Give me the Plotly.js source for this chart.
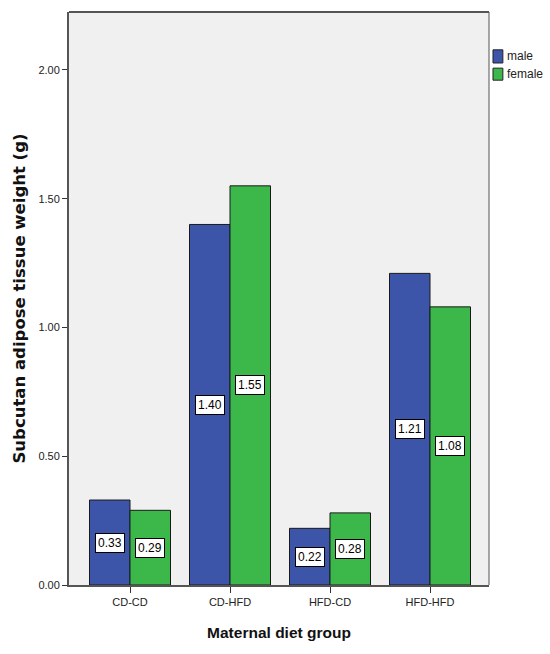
<!DOCTYPE html>
<html>
<head>
<meta charset="utf-8">
<script src="https://cdn.plot.ly/plotly-3.0.1.min.js"></script>
<style>
  html, body { margin: 0; padding: 0; background: #fff; }
  #chart { width: 550px; height: 654px; }
</style>
</head>
<body>
<div id="chart"></div>
<script>
// maternal diet groups and subcutaneous adipose tissue weight (g)
const groups = ['CD-CD', 'CD-HFD', 'HFD-CD', 'HFD-HFD'];
const male = [0.33, 1.40, 0.22, 1.21];
const female = [0.29, 1.55, 0.28, 1.08];
const yTicks = [0, 0.5, 1.0, 1.5, 2.0];

const blue = '#3d55a8';
const green = '#3cb84a';

let trace1 = {
  x: groups,
  y: male,
  name: 'male',
  type: 'bar',
  marker: { color: blue, line: { color: '#1a1a1a', width: 1 } },
  hoverinfo: 'none'
};

let trace2 = {
  x: groups,
  y: female,
  name: 'female',
  type: 'bar',
  marker: { color: green, line: { color: '#1a1a1a', width: 1 } },
  hoverinfo: 'none'
};

// value labels in the middle of each bar, white boxes
let annotations = [];
function addLabels(vals, shift) {
  vals.forEach((v, i) => {
    annotations.push({
      x: groups[i],
      y: v / 2,
      xshift: shift,
      text: v.toFixed(2),
      showarrow: false,
      bgcolor: '#ffffff',
      bordercolor: '#000000',
      borderwidth: 1,
      borderpad: 2,
      font: { family: 'Liberation Sans, Arial', size: 12, color: '#000' }
    });
  });
}
addLabels(male, -20);
addLabels(female, 20);

// legend drawn by hand so it sits tight against the plot like the original
let shapes = [
  { type: 'line', xref: 'paper', yref: 'paper', x0: 0, x1: 1, y0: 1, y1: 1, line: { color: '#555', width: 2 } },
  { type: 'line', xref: 'paper', yref: 'paper', x0: 1, x1: 1, y0: 0, y1: 1, line: { color: '#555', width: 1 } }
];
const legendItems = [
  { name: trace1.name, color: blue, y0: 0.911, y1: 0.934 },
  { name: trace2.name, color: green, y0: 0.881, y1: 0.902 }
];
legendItems.forEach(it => {
  shapes.push({
    type: 'rect', xref: 'paper', yref: 'paper',
    x0: 1.0095, x1: 1.033, y0: it.y0, y1: it.y1,
    fillcolor: it.color, line: { color: '#222', width: 1 }
  });
  annotations.push({
    xref: 'paper', yref: 'paper',
    x: 1.037, y: (it.y0 + it.y1) / 2,
    xanchor: 'left', yanchor: 'middle',
    text: it.name, showarrow: false,
    font: { family: 'Liberation Sans, Arial', size: 12, color: '#222' }
  });
});

let layout = {
  width: 550,
  height: 654,
  margin: { l: 69, r: 61, t: 12, b: 69 },
  paper_bgcolor: '#ffffff',
  plot_bgcolor: '#f0f0f0',
  font: { family: 'Liberation Sans, Arial', size: 11, color: '#222' },
  barmode: 'group',
  bargap: 0.19,
  bargroupgap: 0,
  showlegend: false,
  xaxis: {
    type: 'category',
    range: [-0.61, 3.59],
    showline: true,
    linecolor: '#555',
    linewidth: 2,
    mirror: false,
    ticks: 'outside',
    ticklen: 6,
    tickcolor: '#333',
    tickfont: { size: 11, color: '#222' },
    title: {
      text: 'Maternal diet group',
      font: { size: 15.5, color: '#111', family: 'Liberation Sans, Arial', weight: 'bold' },
      standoff: 20
    }
  },
  yaxis: {
    range: [0, 2.225],
    tickvals: yTicks,
    ticktext: yTicks.map(t => t.toFixed(2)),
    showgrid: false,
    zeroline: false,
    showline: true,
    linecolor: '#555',
    linewidth: 2,
    ticks: 'outside',
    ticklen: 5,
    tickcolor: '#333',
    tickfont: { size: 11, color: '#222' },
    title: {
      text: 'Subcutan adipose tissue weight (g)',
      font: { size: 16.5, color: '#111', family: 'DejaVu Sans, Verdana', weight: 'bold' },
      standoff: 9
    }
  },
  shapes: shapes,
  annotations: annotations
};

Plotly.newPlot('chart', [trace1, trace2], layout, { displayModeBar: false, staticPlot: true });
</script>
</body>
</html>
